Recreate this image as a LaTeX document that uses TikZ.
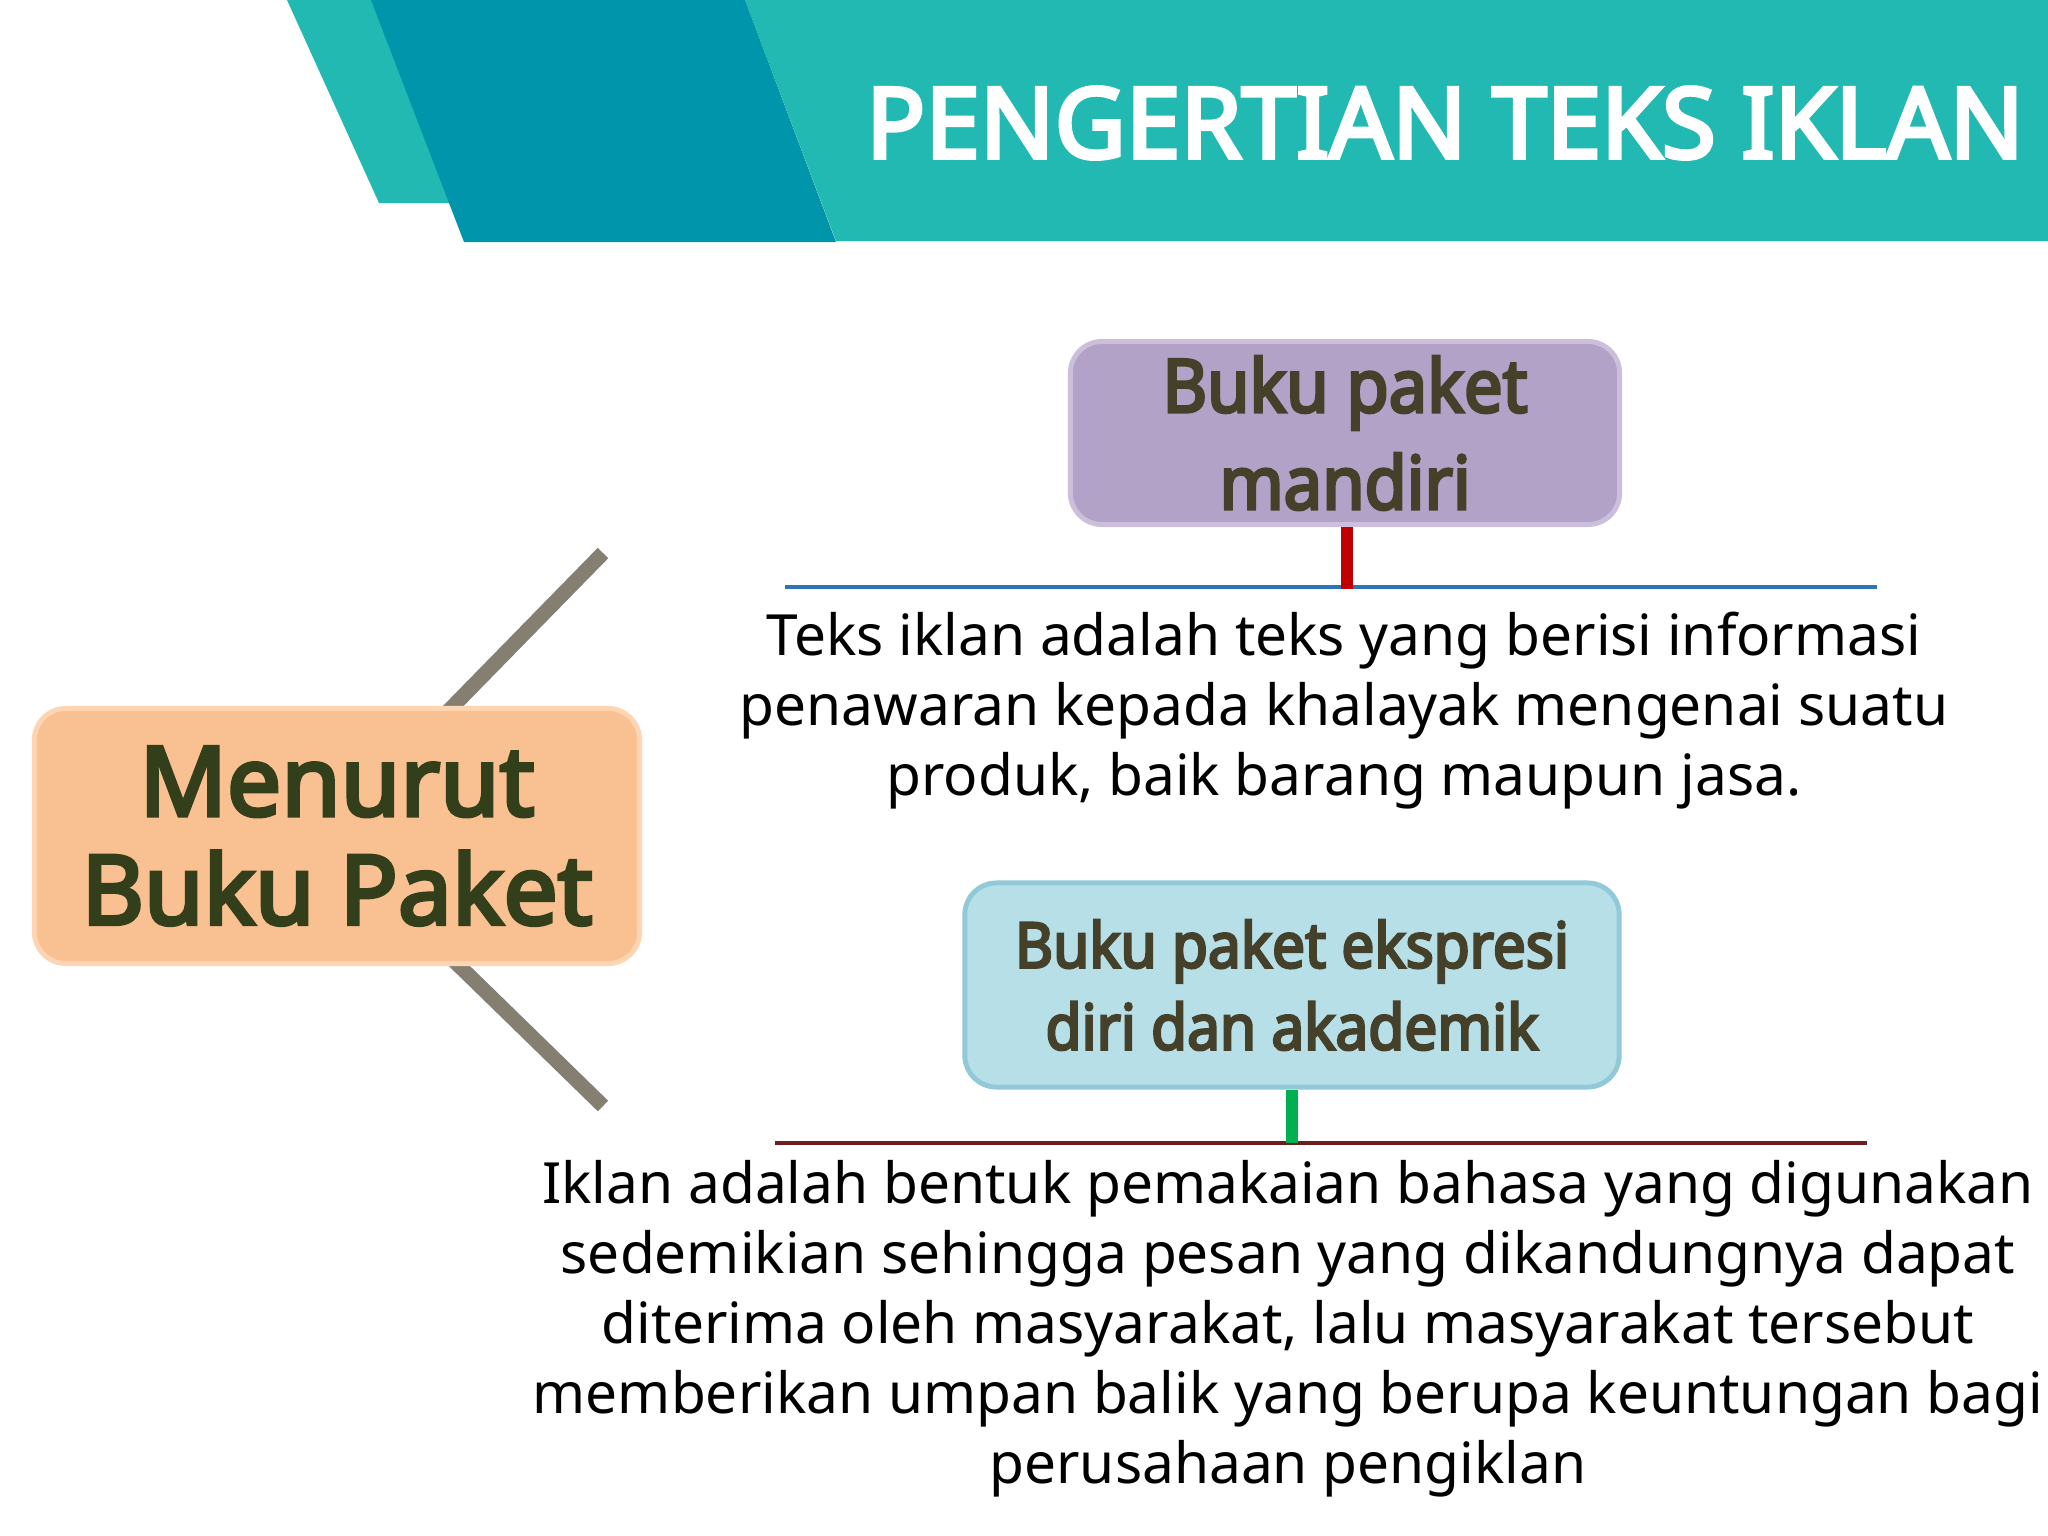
\documentclass[tikz,border=0pt]{standalone}
\usepackage{fontspec}
\setmainfont{Noto Sans}[AutoFakeBold=4]
\newfontfamily\condfont{Noto Sans}[AutoFakeBold=4, FakeStretch=0.93]
\definecolor{tealL}{HTML}{22B9B3}
\definecolor{tealD}{HTML}{0095AB}
\definecolor{lilac}{HTML}{B3A2C7}
\definecolor{lilacB}{HTML}{CBBFDC}
\definecolor{skyF}{HTML}{B7DFE8}
\definecolor{skyB}{HTML}{92C9D8}
\definecolor{peach}{HTML}{F9C192}
\definecolor{peachB}{HTML}{FDD5B2}
\definecolor{boxtxt}{HTML}{454029}
\definecolor{olive}{HTML}{333F1A}
\definecolor{grayline}{HTML}{857F72}
\definecolor{redline}{HTML}{C00000}
\definecolor{greenline}{HTML}{00B050}
\definecolor{blueline}{HTML}{2E75B6}
\definecolor{maroon}{HTML}{6B1F1F}
\begin{document}
\begin{tikzpicture}[x=0.01cm,y=-0.01cm,
  boxbase/.style={rounded corners=9pt, line width=1.4pt, inner sep=0pt, align=center},
  bodytext/.style={align=center, inner sep=0pt, font=\fontsize{16.15}{19.9}\selectfont, text=black},
  branch/.style={line width=4.2pt, grayline},
  stem/.style={line width=3.6pt},
  rule/.style={line width=0.9pt}]
\useasboundingbox (0,0) rectangle (2048,1536);
% banner
\fill[tealL] (287,0) -- (420,0) -- (500,203) -- (379,203) -- cycle;
\fill[tealL] (745,0) -- (2048,0) -- (2048,241) -- (836,241) -- cycle;
\fill[tealD] (371,0) -- (745,0) -- (836,242) -- (464,242) -- cycle;
\node[anchor=base, text=white, inner sep=0pt, font=\fontsize{27.9}{30}\selectfont\bfseries] (title) at (1445,158) {PENGERTIAN TEKS IKLAN};
% branches
\coordinate (apex) at (326,836);
\coordinate (tipA) at (603,553);
\coordinate (tipB) at (603,1106);
\draw[branch] (apex) -- (tipA);
\draw[branch] (apex) -- (tipB);
% main box
\node[boxbase, fill=peach, draw=peachB, text=olive,
  minimum width=6.05cm, minimum height=2.55cm,
  font=\fontsize{27.4}{30.9}\selectfont\bfseries] (main) at (337,836) {Menurut\\Buku Paket};
% purple box
\node[boxbase, fill=lilac, draw=lilacB, text=boxtxt, minimum width=5.49cm, minimum height=1.83cm,
  font=\condfont\fontsize{21}{27.6}\selectfont\bfseries] (mandiri) at (1345,433) {Buku paket\\mandiri};
\coordinate (r1L) at (785,587);
\coordinate (r1R) at (1877,587);
\coordinate (r1M) at (1347,589);
\draw[rule, blueline] (r1L) -- (r1R);
\draw[stem, redline] (mandiri.south -| r1M) -- (r1M);
\node[bodytext, anchor=base] (def1) at (1344,795) {Teks iklan adalah teks yang berisi informasi\\penawaran kepada khalayak mengenai suatu\\produk, baik barang maupun jasa.};
% blue box
\node[boxbase, fill=skyF, draw=skyB, text=boxtxt, minimum width=6.54cm, minimum height=2.04cm,
  font=\condfont\fontsize{17.9}{23.3}\selectfont\bfseries] (ekspresi) at (1292,985) {Buku paket ekspresi\\diri dan akademik};
\coordinate (r2L) at (775,1143);
\coordinate (r2R) at (1867,1143);
\coordinate (r2M) at (1292,1143);
\draw[rule, maroon] (r2L) -- (r2R);
\draw[stem, greenline] (ekspresi.south) -- (r2M);
\node[bodytext, anchor=base] (def2) at (1288,1483) {Iklan adalah bentuk pemakaian bahasa yang digunakan\\sedemikian sehingga pesan yang dikandungnya dapat\\diterima oleh masyarakat, lalu masyarakat tersebut\\memberikan umpan balik yang berupa keuntungan bagi\\perusahaan pengiklan};
\end{tikzpicture}
\end{document}
